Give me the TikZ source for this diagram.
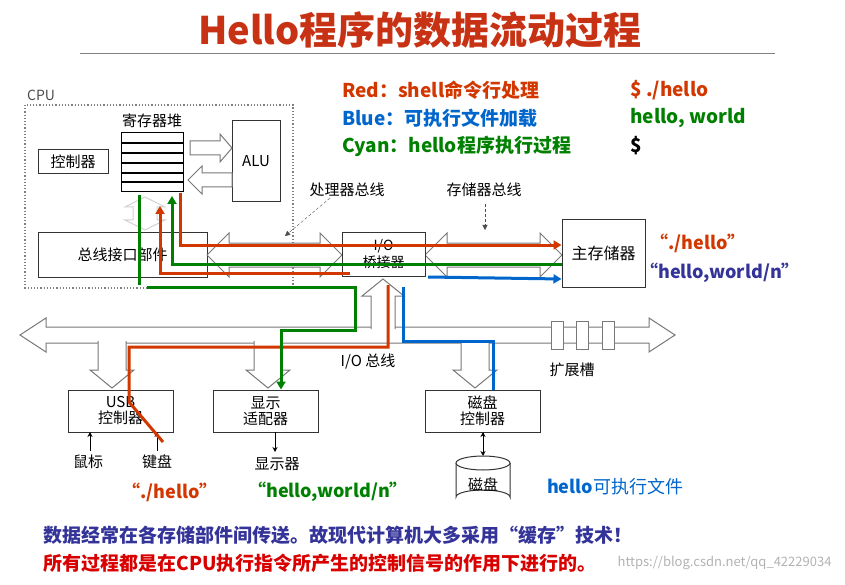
\documentclass[tikz,border=0pt]{standalone}
\usepackage{fontspec}
\setmainfont{Noto Sans CJK SC}
\usetikzlibrary{arrows.meta}
\definecolor{tred}{RGB}{200,50,20}
\definecolor{lred}{RGB}{210,55,0}
\definecolor{lgreen}{RGB}{0,128,0}
\definecolor{lblue}{RGB}{0,102,204}
\definecolor{dblue}{RGB}{51,51,153}
\definecolor{bgray}{RGB}{120,120,120}
\newcommand\HDA[6]{\draw[bgray,fill=white,line width=1pt] (#1,#3) -- ({#1+#6},{#3-#5}) -- ({#1+#6},{#3-#4}) -- ({#2-#6},{#3-#4}) -- ({#2-#6},{#3-#5}) -- (#2,#3) -- ({#2-#6},{#3+#5}) -- ({#2-#6},{#3+#4}) -- ({#1+#6},{#3+#4}) -- ({#1+#6},{#3+#5}) -- cycle;}
\newcommand\RA[6]{\draw[bgray,fill=white,line width=1pt] (#1,{#3-#4}) -- ({#2-#6},{#3-#4}) -- ({#2-#6},{#3-#5}) -- (#2,#3) -- ({#2-#6},{#3+#5}) -- ({#2-#6},{#3+#4}) -- (#1,{#3+#4}) -- cycle;}
\newcommand\VA[6]{\fill[white] ({#1-#4},#2) -- ({#1-#4},{#3-#6}) -- ({#1-#5},{#3-#6}) -- (#1,#3) -- ({#1+#5},{#3-#6}) -- ({#1+#4},{#3-#6}) -- ({#1+#4},#2) -- cycle;
\draw[bgray,line width=1pt] ({#1-#4},#2) -- ({#1-#4},{#3-#6}) -- ({#1-#5},{#3-#6}) -- (#1,#3) -- ({#1+#5},{#3-#6}) -- ({#1+#4},{#3-#6}) -- ({#1+#4},#2);}
\tikzset{
 box/.style={draw=black!80,line width=1pt,fill=white,inner sep=0pt,font=\fontsize{15}{16}\selectfont,align=center},
 lab/.style={font=\fontsize{15}{17}\selectfont,inner sep=0pt},
 path/.style={line width=3pt},
 leg/.style={font=\bfseries\fontsize{19}{21}\selectfont,anchor=west,inner sep=0pt},
 kl/.style={font=\bfseries\fontsize{18}{20}\selectfont},
 tip/.style={-{Triangle[length=8pt,width=9pt]}},
 small/.style={-{Stealth[length=5pt,width=5pt]},line width=0.8pt}
}
\begin{document}
\begin{tikzpicture}[x=1pt,y=-1pt]
\useasboundingbox (0,0) rectangle (845,585);
\node[font=\bfseries\fontsize{38}{40}\selectfont,text=tred] (title) at (420,30) {Hello程序的数据流动过程};
\draw[gray,line width=0.8pt] (80,53) -- (775,53);
\node[leg,text=lred] (l1) at (342,90) {Red：shell命令行处理};
\node[leg,text=lblue] (l2) at (342,118) {Blue：可执行文件加载};
\node[leg,text=lgreen] (l3) at (342,146) {Cyan：hello程序执行过程};
\node[leg,text=lred] (r1) at (630,90) {\$ ./hello};
\node[leg,text=lgreen] (r2) at (630,118) {hello, world};
\node[leg,text=black] (r3) at (630,146) {\$};
\node[font=\fontsize{14}{15}\selectfont,text=black!70,anchor=west,inner sep=0pt] (cpul) at (27,95) {CPU};
\draw[black!50,dotted,line width=1.2pt] (25,105) rectangle (293,288);
\node[lab] (regl) at (152,121) {寄存器堆};
\draw[black,line width=1pt,fill=white] (121,133) rectangle (183,192);
\foreach \y in {143,153,163,173,182} \draw[black,line width=1.2pt] (121,\y) -- (183,\y);
\node[box,minimum width=48pt,minimum height=81pt] (alu) at (256,161.5) {ALU};
\node[box,minimum width=70pt,minimum height=24pt] (ctl) at (73,162) {控制器};
\RA{190}{232}{148}{7}{14}{12}
\draw[bgray,fill=white,line width=1pt] (232,173) -- (202,173) -- (202,166) -- (188,180) -- (202,194) -- (202,187) -- (232,187) -- cycle;
\draw[gray!35,fill=white,line width=1pt] (145,197) -- (165,207) -- (157,207) -- (157,220) -- (165,220) -- (145,230) -- (125,220) -- (133,220) -- (133,207) -- (125,207) -- cycle;
\node[box,minimum width=169pt,minimum height=44pt] (biu) at (122.5,255) {总线接口部件};
\HDA{207}{342}{255}{12}{22}{22}
\HDA{425}{562}{255}{12}{22}{22}
\node[box,minimum width=83pt,minimum height=43pt,font=\fontsize{14}{17}\selectfont] (bridge) at (383.5,254.5) {I/O\\桥接器};
\node[box,minimum width=83pt,minimum height=67pt,font=\fontsize{16}{18}\selectfont] (mem) at (603.5,253.5) {主存储器};
\node[lab] (pbl) at (347,190) {处理器总线};
\node[lab] (mbl) at (484,190) {存储器总线};
\draw[densely dashed,black!70,-{Triangle[length=5pt,width=5pt]}] (330,198) -- (285,236);
\draw[densely dashed,black!70,-{Triangle[length=5pt,width=5pt]}] (485,204) -- (485,230);
\HDA{20}{675}{335}{8}{17}{26}
\foreach \x in {551,576,602} \draw[bgray,fill=white,line width=1pt] (\x,321) rectangle ({\x+12},349);
\VA{383}{329}{279}{12}{21}{-17}
\VA{112}{341}{388}{14}{22}{18}
\VA{268}{341}{388}{14}{22}{18}
\VA{475}{341}{388}{14}{22}{18}
\node[lab] (iobl) at (368,362) {I/O 总线};
\node[lab] (extl) at (572,370) {扩展槽};
\node[box,minimum width=105pt,minimum height=42pt] (usb) at (120.5,411) {USB\\控制器};
\node[box,minimum width=105pt,minimum height=42pt] (disp) at (265.5,411) {显示\\适配器};
\node[box,minimum width=115pt,minimum height=42pt] (dctl) at (482.5,411) {磁盘\\控制器};
\node[lab] (mouse) at (88,462) {鼠标};
\node[lab] (kbd) at (157,462) {键盘};
\node[lab] (mon) at (277,464) {显示器};
\draw[small] (90,451) -- (90,432);
\draw[small] (157,451) -- (157,432);
\draw[small] (275,432) -- (275,452);
\draw[small,{Stealth[length=5pt,width=5pt]}-{Stealth[length=5pt,width=5pt]}] (483,432) -- (483,456);
\draw[black!80,line width=1pt,fill=white] (456,463) -- (456,497) arc[start angle=180,end angle=360,x radius=27,y radius=7] -- (510,463);
\draw[black!80,line width=1pt,fill=white] (483,463) ellipse[x radius=27,y radius=7];
\node[lab] (disk) at (483,485) {磁盘};
\node[kl,text=lred] (k1) at (170,492) {“./hello”};
\node[kl,text=lgreen] (k2) at (328,492) {“hello,world/n”};
\node[font=\fontsize{18}{20}\selectfont,text=lblue] (k3) at (615,487) {\textbf{hello}可执行文件};
\node[kl,text=lred] (m1) at (698,243) {“./hello”};
\node[kl,text=dblue] (m2) at (720,273) {“hello,world/n”};
\draw[lred,path] (163,442) -- (129,402) -- (129,347) -- (388,347) -- (388,285);
\draw[lred,path,tip] (350,273) -- (160,273) -- (160,206);
\draw[lred,path,tip] (180,193) -- (180,245) -- (mem.west |- 0,245);
\draw[lgreen,path,tip] (mem.west |- 0,264) -- (172,264) -- (172,196);
\draw[lgreen,path] (139,195) -- (139,285);
\draw[lgreen,path,tip] (147,287) -- (355,287) -- (355,330) -- (281,330) -- (disp.north -| 281,0);
\draw[lblue,path] (403,287) -- (403,341) -- (493,341) -- (493,390);
\draw[lblue,path,tip] (428,277) -- (mem.west |- 0,279);
\node[font=\bfseries\fontsize{19}{21}\selectfont,text=dblue,anchor=west] (b1) at (40,535) {数据经常在各存储部件间传送。故现代计算机大多采用“缓存”技术！};
\node[font=\bfseries\fontsize{19}{21}\selectfont,text=red!85!black,anchor=west] (b2) at (40,563) {所有过程都是在CPU执行指令所产生的控制信号的作用下进行的。};
\node[font=\fontsize{13}{15}\selectfont,text=gray!60,anchor=east] (wm) at (835,563) {https://blog.csdn.net/qq\_42229034};
\end{tikzpicture}
\end{document}
